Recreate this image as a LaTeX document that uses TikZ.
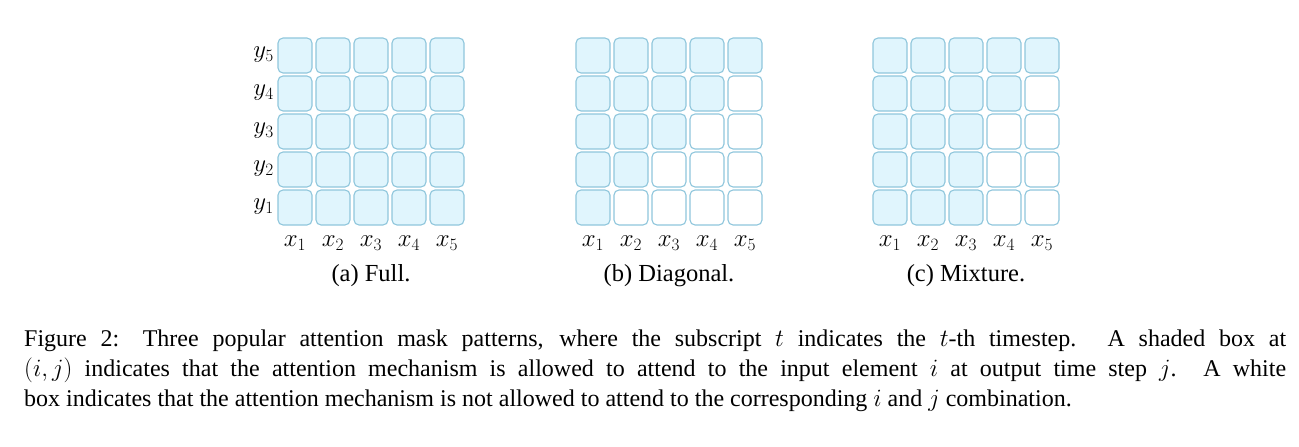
\documentclass[tikz,border=0pt]{standalone}
\usepackage{fontspec}
\setmainfont{Liberation Serif}
\begin{document}
\begin{tikzpicture}[x=1pt,y=-1pt,
  cell/.style={draw=cyan!45!teal!50, line width=1.1pt, rounded corners=5pt},
  on/.style={fill=cyan!12},
  lab/.style={font=\fontsize{26}{28}\selectfont, inner sep=0pt},
  sub/.style={font=\fontsize{24.5}{30}\selectfont, inner sep=0pt}]
\useasboundingbox (0,0) rectangle (1299,447);
\foreach \gx/\pat/\cap/\nm in {278/{5,5,5,5,5}/{(a) Full.}/a, 576/{1,2,3,4,5}/{(b) Diagonal.}/b, 873/{3,3,3,4,5}/{(c) Mixture.}/c}{
  \foreach \n [count=\r] in \pat {
    \foreach \c in {1,...,5}{
      \pgfmathsetmacro{\xx}{\gx+38*(\c-1)}
      \pgfmathsetmacro{\yy}{38+38*(5-\r)}
      \ifnum\c>\n
        \draw[cell,fill=white] (\xx,\yy) rectangle ++(34,35);
      \else
        \draw[cell,on] (\xx,\yy) rectangle ++(34,35);
      \fi
    }
  }
  \foreach \c in {1,...,5}{
    \node[lab] (\nm x\c) at ({\gx+17+38*(\c-1)},243) {$x_{\c}$};
  }
  \node[sub] (\nm cap) at ({\gx+93},276) {\cap};
}
\foreach \r in {1,...,5}{
  \node[lab,anchor=east] (y\r) at (274,{38+17+38*(5-\r)}) {$y_{\r}$};
}
\node[anchor=north west, inner sep=0pt, text width=1262pt, align=justify,
  font=\fontsize{24}{30}\selectfont] (caption) at (24,330)
 {Figure 2: Three popular attention mask patterns, where the subscript $t$ indicates the $t$-th timestep. A shaded box at\linebreak
 $(i,j)$ indicates that the attention mechanism is allowed to attend to the input element $i$ at output time step $j$. A white\linebreak
 box indicates that the attention mechanism is not allowed to attend to the corresponding $i$ and $j$ combination.\par};
\end{tikzpicture}
\end{document}
